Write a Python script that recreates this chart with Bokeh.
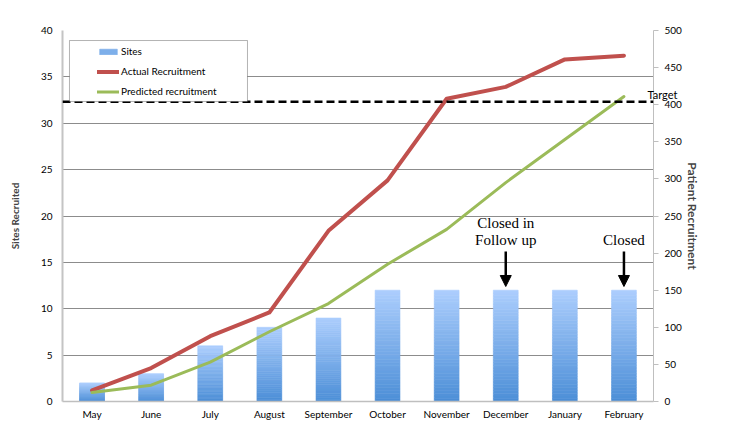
import numpy as np
from bokeh.plotting import figure
from bokeh.models import (Range1d, LinearAxis, FixedTicker, SingleIntervalTicker, Legend,
                          LegendItem, Span, Label, Arrow, NormalHead, BoxAnnotation,
                          ColumnDataSource)
from bokeh.embed import file_html
from bokeh.resources import INLINE

# ---------------- data ----------------
months = ["May", "June", "July", "August", "September", "October", "November",
          "December", "January", "February"]
sites = [2, 3, 6, 8, 9, 12, 12, 12, 12, 12]
actual = [15, 45, 88, 120, 230, 298, 408, 424, 461, 466]
predicted = [12, 22, 53, 94, 132, 185, 232, 295, 353, 411]
target = 404
target_text = "Target"
left_label = "Sites Recruited"
right_label = "Patient Recruitment"
legend_labels = ["Sites", "Actual Recruitment", "Predicted recruitment"]
notes = {"December": ["Closed in", "Follow up"], "February": ["Closed"]}

FONT = "Lato"
x = np.arange(len(months)) + 0.5

p = figure(width=734, height=429, output_backend="svg", toolbar_location=None,
           x_range=Range1d(0, len(months)), y_range=Range1d(0, 40),
           min_border_left=62, min_border_right=81, min_border_top=30,
           min_border_bottom=28)
p.extra_y_ranges = {"pat": Range1d(0, 500)}
p.outline_line_color = None
p.background_fill_color = "white"
p.border_fill_color = "white"

# grid
p.xgrid.visible = False
p.ygrid.ticker = SingleIntervalTicker(interval=5, num_minor_ticks=0)
p.ygrid.grid_line_color = "#8c8c8c"
p.ygrid.grid_line_width = 1

# bottom axis
xa = p.xaxis[0]
xa.ticker = FixedTicker(ticks=list(x))
xa.major_label_overrides = {float(xi): m for xi, m in zip(x, months)}
xa.major_tick_line_color = None
xa.major_tick_out = 0
xa.major_tick_in = 0
xa.minor_tick_line_color = None
xa.axis_line_color = "#bfbfbf"
xa.axis_line_width = 1.5
xa.major_label_standoff = 6
xa.major_label_text_font = FONT
xa.major_label_text_font_size = "10px"
xa.major_label_text_color = "black"

# left axis
ya = p.yaxis[0]
ya.ticker = SingleIntervalTicker(interval=5, num_minor_ticks=0)
ya.major_tick_line_color = None
ya.major_tick_out = 0
ya.major_tick_in = 0
ya.minor_tick_line_color = None
ya.axis_line_color = "#c4c4c4"
ya.axis_line_width = 2
ya.major_label_standoff = 10
ya.major_label_text_font = FONT
ya.major_label_text_font_size = "10px"
ya.major_label_text_color = "black"
ya.axis_label = left_label
ya.axis_label_text_font = FONT
ya.axis_label_text_font_size = "10px"
ya.axis_label_text_font_style = "bold"
ya.axis_label_standoff = 17

# right axis
ra = LinearAxis(y_range_name="pat",
                ticker=SingleIntervalTicker(interval=50, num_minor_ticks=0),
                axis_label=right_label)
ra.axis_line_color = "#bfbfbf"
ra.major_tick_line_color = "#bfbfbf"
ra.major_tick_out = 5
ra.major_tick_in = 0
ra.minor_tick_line_color = None
ra.major_label_standoff = 6
ra.major_label_text_font = FONT
ra.major_label_text_font_size = "10px"
ra.major_label_text_color = "black"
ra.axis_label_text_font = FONT
ra.axis_label_text_font_size = "12px"
ra.axis_label_text_font_style = "bold"
ra.axis_label_standoff = 0
p.add_layout(ra, "right")

# "Target" text, drawn as a tick label of an extra (invisible) right axis
ta = LinearAxis(y_range_name="pat", ticker=FixedTicker(ticks=[target + 10]),
                major_label_overrides={float(target + 10): target_text})
ta.axis_line_color = None
ta.major_tick_line_color = None
ta.minor_tick_line_color = None
ta.major_tick_out = 0
ta.major_tick_in = 0
ta.major_label_standoff = -55
ta.major_label_text_font = FONT
ta.major_label_text_font_size = "11px"
ta.major_label_text_color = "black"
p.add_layout(ta, "right")

# ---------------- bars with vertical gradient ----------------
def hex2rgb(h):
    h = h.lstrip("#")
    return np.array([int(h[i:i + 2], 16) for i in (0, 2, 4)], dtype=float)

dark = hex2rgb("#4d8fd7")
light = hex2rgb("#abcdfd")
segs = 40
bx, bb, bt, bc = [], [], [], []
for xi, s in zip(x, sites):
    for k in range(segs):
        t = k / (segs - 1)
        c = dark + (light - dark) * t
        bx.append(xi)
        bb.append(s * k / segs)
        bt.append(s * (k + 1) / segs)
        bc.append("#%02x%02x%02x" % tuple(int(round(v)) for v in c))
src = ColumnDataSource(dict(x=bx, bottom=bb, top=bt, color=bc))
bars = p.vbar(x="x", bottom="bottom", top="top", width=0.42, source=src,
              fill_color="color", line_color="color", line_width=0.6)

# ---------------- lines ----------------
l_act = p.line(x, actual, y_range_name="pat", line_color="#c0504d", line_width=4,
               line_join="round", line_cap="round")
l_pre = p.line(x, predicted, y_range_name="pat", line_color="#9bbb59", line_width=3,
               line_join="round", line_cap="round")

# target line
p.add_layout(Span(location=target, dimension="width", y_range_name="pat",
                  line_color="black", line_width=2.5, line_dash="8 4"))

# ---------------- legend ----------------
p.add_layout(BoxAnnotation(left=0.118, right=3.13, top=38.92, bottom=32.35,
                           fill_color="white", fill_alpha=1.0,
                           line_color="black", line_width=1))
legend = Legend(items=[
    LegendItem(label=legend_labels[0], renderers=[bars], index=segs // 2),
    LegendItem(label=legend_labels[1], renderers=[l_act]),
    LegendItem(label=legend_labels[2], renderers=[l_pre]),
], location=(35, 300), border_line_color=None, background_fill_alpha=0,
   padding=0, spacing=0, margin=0, glyph_width=22, glyph_height=7,
   label_height=20, label_standoff=2, label_text_font=FONT,
   label_text_font_size="10px", label_text_color="black")
p.add_layout(legend, "center")

# ---------------- annotations ----------------
for m, lines in notes.items():
    xi = x[months.index(m)]
    n = len(lines)
    for j, t in enumerate(lines):
        p.add_layout(Label(x=xi, y=240 - 22 * j if n > 1 else 218,
                           y_range_name="pat", text=t, text_align="center",
                           text_baseline="middle", text_font="Liberation Serif",
                           text_font_size="15px", text_color="black"))
    p.add_layout(Arrow(end=NormalHead(size=11, fill_color="black", line_color="black"),
                       x_start=xi, y_start=202, x_end=xi, y_end=155,
                       y_range_name="pat", line_color="black", line_width=2.5))

open("out.html", "w").write(file_html(p, INLINE))
